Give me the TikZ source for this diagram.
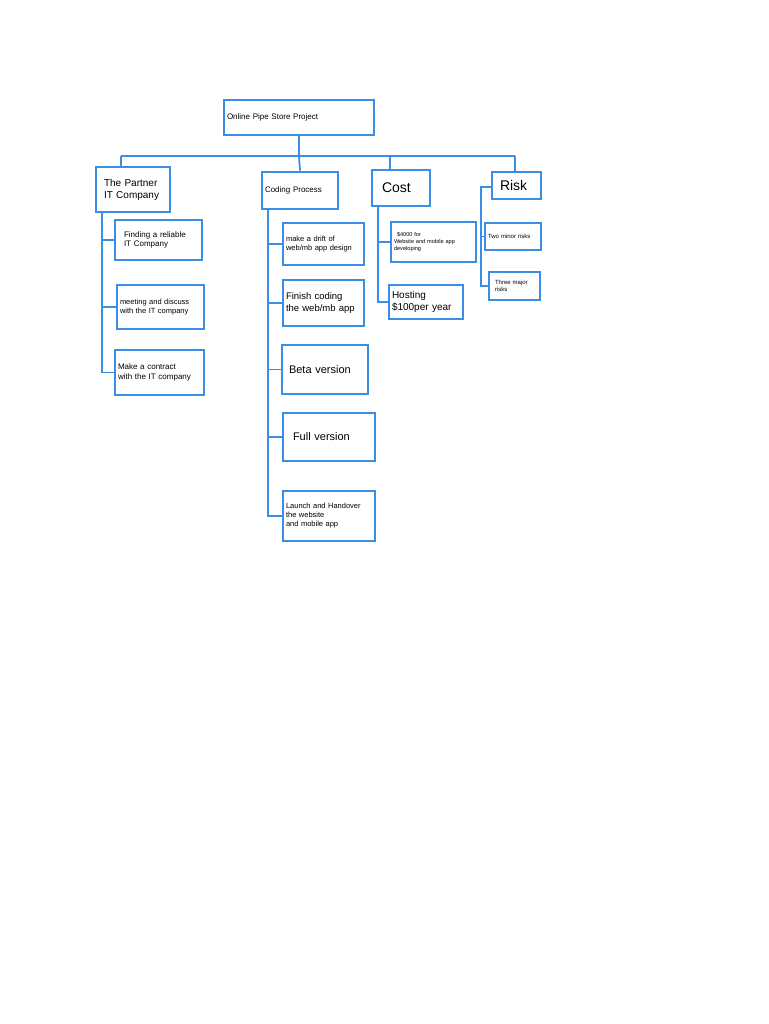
\documentclass[tikz,border=0pt]{standalone}
\usepackage{fontspec}
\setmainfont{Liberation Sans}
\definecolor{bl}{HTML}{3A8EE6}
\begin{document}
\begin{tikzpicture}[x=1pt,y=-1pt,
 bx/.style={draw=bl,line width=2.6pt,align=left,inner sep=0pt},
 ln/.style={draw=bl,line width=1.8pt}]
\useasboundingbox (0,0) rectangle (768,1024);
\newcommand{\bxx}[7]{\node[bx,minimum width=#3-#2,minimum height=#5-#4,text width=#3-#2-6,font=\fontsize{#6}{1.2\dimexpr #6pt\relax}\selectfont] (#1) at ({(#2+#3)/2},{(#4+#5)/2}) {#7};}
\bxx{root}{224}{374}{100}{135}{8}{\centering Online Pipe Store Project}
\bxx{partner}{96}{170}{167}{212}{10}{\hspace*{5pt}The Partner\\\hspace*{5pt}IT Company}
\bxx{coding}{262}{338}{172}{209}{8}{\centering Coding Process}
\bxx{cost}{372}{430}{170}{206}{14}{\hspace*{7pt}Cost}
\bxx{risk}{492}{541}{172}{199}{14}{\hspace*{5pt}Risk}
\bxx{p1}{115}{202}{220}{260}{8}{\hspace*{6pt}Finding a reliable\\\hspace*{6pt}IT Company}
\bxx{p2}{117}{204}{285}{329}{7.5}{meeting and discuss\\with the IT company}
\bxx{p3}{115}{204}{350}{395}{8}{Make a contract\\with the IT company}
\bxx{c1}{283}{364}{223}{265}{7.5}{make a drift of\\web/mb app design}
\bxx{c2}{283}{364}{280}{326}{9.5}{Finish coding\\the web/mb app}
\bxx{c3}{282}{368}{345}{394}{11}{\hspace*{4pt}Beta version}
\bxx{c4}{283}{375}{413}{461}{11}{\hspace*{7pt}Full version}
\bxx{c5}{283}{375}{491}{541}{7.5}{Launch and Handover\\the website\\and mobile app}
\bxx{k1}{391}{476}{222}{262}{5.6}{\hspace*{3pt}\$4000 for\\Website and mobile app\\developing}
\bxx{k2}{389}{463}{285}{319}{10}{Hosting\\\$100per year}
\bxx{r1}{485}{541}{223}{250}{6}{Two minor risks}
\bxx{r2}{489}{540}{272}{300}{6}{\hspace*{3pt}Three major\\\hspace*{3pt}risks}
\coordinate (bl) at (121,156); \coordinate (br) at (515,156);
\draw[ln] (root.south) -- (299,156);
\draw[ln] (bl) -- (br);
\draw[ln] (bl) -- (partner.north -| bl);
\draw[ln] (299,156) -- (coding.north);
\draw[ln] (390,156) -- (390,170);
\draw[ln] (br) -- (risk.north -| br);
\draw[ln] (102,212) |- (p3.west);
\draw[ln] (102,240) -- (p1.west); \draw[ln] (102,307) -- (p2.west);
\draw[ln] (268,209) |- (c5.west);
\foreach \n in {c1,c2,c3,c4} \draw[ln] (268,0 |- \n.west) -- (\n.west);
\draw[ln] (378,206) |- (k2.west);
\draw[ln] (378,0 |- k1.west) -- (k1.west);
\draw[ln] (risk.west |- 0,187) -- (481,187) |- (r2.west);
\draw[ln] (481,0 |- r1.west) -- (r1.west);
\end{tikzpicture}
\end{document}
